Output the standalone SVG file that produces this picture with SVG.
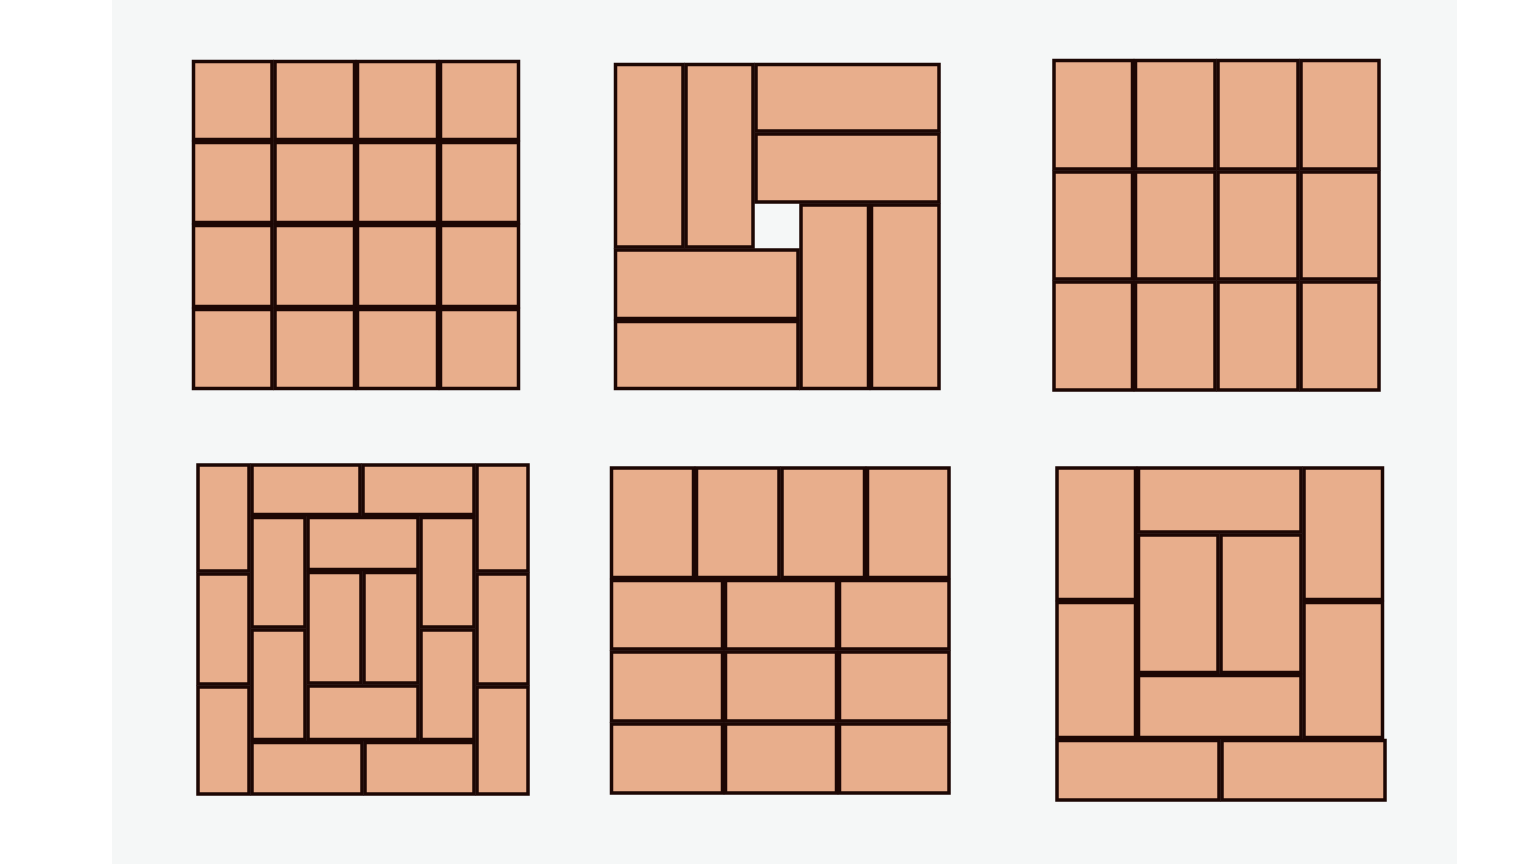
<svg xmlns="http://www.w3.org/2000/svg" width="1536" height="864" viewBox="0 0 1536 864">
<style>
.t{fill:#e8ae8c;stroke:#1c0704;stroke-width:3.5}
</style>
<rect x="0" y="0" width="1536" height="864" fill="#ffffff"/>
<rect x="112" y="0" width="1345" height="864" fill="#f5f7f7"/>
<g id="pattern-grid-square">
<rect class="t" x="193.5" y="61.5" width="78.5" height="78"/>
<rect class="t" x="275" y="61.5" width="79.5" height="78"/>
<rect class="t" x="357.5" y="61.5" width="80" height="78"/>
<rect class="t" x="440.5" y="61.5" width="78" height="78"/>
<rect class="t" x="193.5" y="142.5" width="78.5" height="80"/>
<rect class="t" x="275" y="142.5" width="79.5" height="80"/>
<rect class="t" x="357.5" y="142.5" width="80" height="80"/>
<rect class="t" x="440.5" y="142.5" width="78" height="80"/>
<rect class="t" x="193.5" y="225.5" width="78.5" height="81"/>
<rect class="t" x="275" y="225.5" width="79.5" height="81"/>
<rect class="t" x="357.5" y="225.5" width="80" height="81"/>
<rect class="t" x="440.5" y="225.5" width="78" height="81"/>
<rect class="t" x="193.5" y="309.5" width="78.5" height="79"/>
<rect class="t" x="275" y="309.5" width="79.5" height="79"/>
<rect class="t" x="357.5" y="309.5" width="80" height="79"/>
<rect class="t" x="440.5" y="309.5" width="78" height="79"/>
</g>
<g id="pattern-pinwheel">
<rect class="t" x="615.5" y="64.5" width="67.5" height="182.5"/>
<rect class="t" x="686" y="64.5" width="67" height="182.5"/>
<rect class="t" x="756" y="64.5" width="183" height="66.5"/>
<rect class="t" x="756" y="134" width="183" height="68"/>
<rect class="t" x="615.5" y="250" width="182.5" height="68.5"/>
<rect class="t" x="615.5" y="321.5" width="182.5" height="67"/>
<rect class="t" x="801" y="205" width="67.5" height="183.5"/>
<rect class="t" x="871.5" y="205" width="67.5" height="183.5"/>
</g>
<g id="pattern-grid-tall">
<rect class="t" x="1054" y="60.5" width="78.5" height="108.5"/>
<rect class="t" x="1135.5" y="60.5" width="79.5" height="108.5"/>
<rect class="t" x="1218" y="60.5" width="80" height="108.5"/>
<rect class="t" x="1301" y="60.5" width="78" height="108.5"/>
<rect class="t" x="1054" y="172" width="78.5" height="107"/>
<rect class="t" x="1135.5" y="172" width="79.5" height="107"/>
<rect class="t" x="1218" y="172" width="80" height="107"/>
<rect class="t" x="1301" y="172" width="78" height="107"/>
<rect class="t" x="1054" y="282" width="78.5" height="108"/>
<rect class="t" x="1135.5" y="282" width="79.5" height="108"/>
<rect class="t" x="1218" y="282" width="80" height="108"/>
<rect class="t" x="1301" y="282" width="78" height="108"/>
</g>
<g id="pattern-concentric">
<rect class="t" x="198" y="465" width="51" height="106"/>
<rect class="t" x="198" y="574" width="51" height="110"/>
<rect class="t" x="198" y="687" width="51" height="107"/>
<rect class="t" x="477" y="465" width="51" height="106"/>
<rect class="t" x="477" y="574" width="51" height="110"/>
<rect class="t" x="477" y="687" width="51" height="107"/>
<rect class="t" x="252" y="465" width="108" height="49.5"/>
<rect class="t" x="363" y="465" width="111" height="49.5"/>
<rect class="t" x="252" y="742.5" width="110" height="51.5"/>
<rect class="t" x="365" y="742.5" width="109" height="51.5"/>
<rect class="t" x="252" y="517.5" width="53" height="109.5"/>
<rect class="t" x="252" y="630" width="53" height="109.5"/>
<rect class="t" x="421" y="517.5" width="53" height="109.5"/>
<rect class="t" x="421" y="630" width="53" height="109.5"/>
<rect class="t" x="308" y="517.5" width="110" height="52"/>
<rect class="t" x="308" y="686" width="110" height="53.5"/>
<rect class="t" x="308" y="572.5" width="53" height="110.5"/>
<rect class="t" x="364" y="572.5" width="54" height="110.5"/>
</g>
<g id="pattern-mixed-rows">
<rect class="t" x="611.5" y="468" width="82" height="109.5"/>
<rect class="t" x="696.5" y="468" width="82.5" height="109.5"/>
<rect class="t" x="782" y="468" width="82.5" height="109.5"/>
<rect class="t" x="867.5" y="468" width="81.5" height="109.5"/>
<rect class="t" x="611.5" y="580.5" width="111" height="68.5"/>
<rect class="t" x="725.5" y="580.5" width="111" height="68.5"/>
<rect class="t" x="839.5" y="580.5" width="109.5" height="68.5"/>
<rect class="t" x="611.5" y="652" width="111" height="69"/>
<rect class="t" x="725.5" y="652" width="111" height="69"/>
<rect class="t" x="839.5" y="652" width="109.5" height="69"/>
<rect class="t" x="611.5" y="724" width="111" height="69"/>
<rect class="t" x="725.5" y="724" width="111" height="69"/>
<rect class="t" x="839.5" y="724" width="109.5" height="69"/>
</g>
<g id="pattern-frame">
<rect class="t" x="1057" y="468" width="78.5" height="131.5"/>
<rect class="t" x="1057" y="602.5" width="78.5" height="135"/>
<rect class="t" x="1304" y="468" width="78.5" height="131.5"/>
<rect class="t" x="1304" y="602.5" width="78.5" height="135"/>
<rect class="t" x="1138.5" y="468" width="162.5" height="64"/>
<rect class="t" x="1138.5" y="535" width="79.5" height="137.5"/>
<rect class="t" x="1221" y="535" width="80" height="137.5"/>
<rect class="t" x="1138.5" y="675.5" width="162.5" height="62"/>
<rect class="t" x="1057" y="740.5" width="162" height="59.5"/>
<rect class="t" x="1222" y="740.5" width="163" height="59.5"/>
</g>
</svg>
